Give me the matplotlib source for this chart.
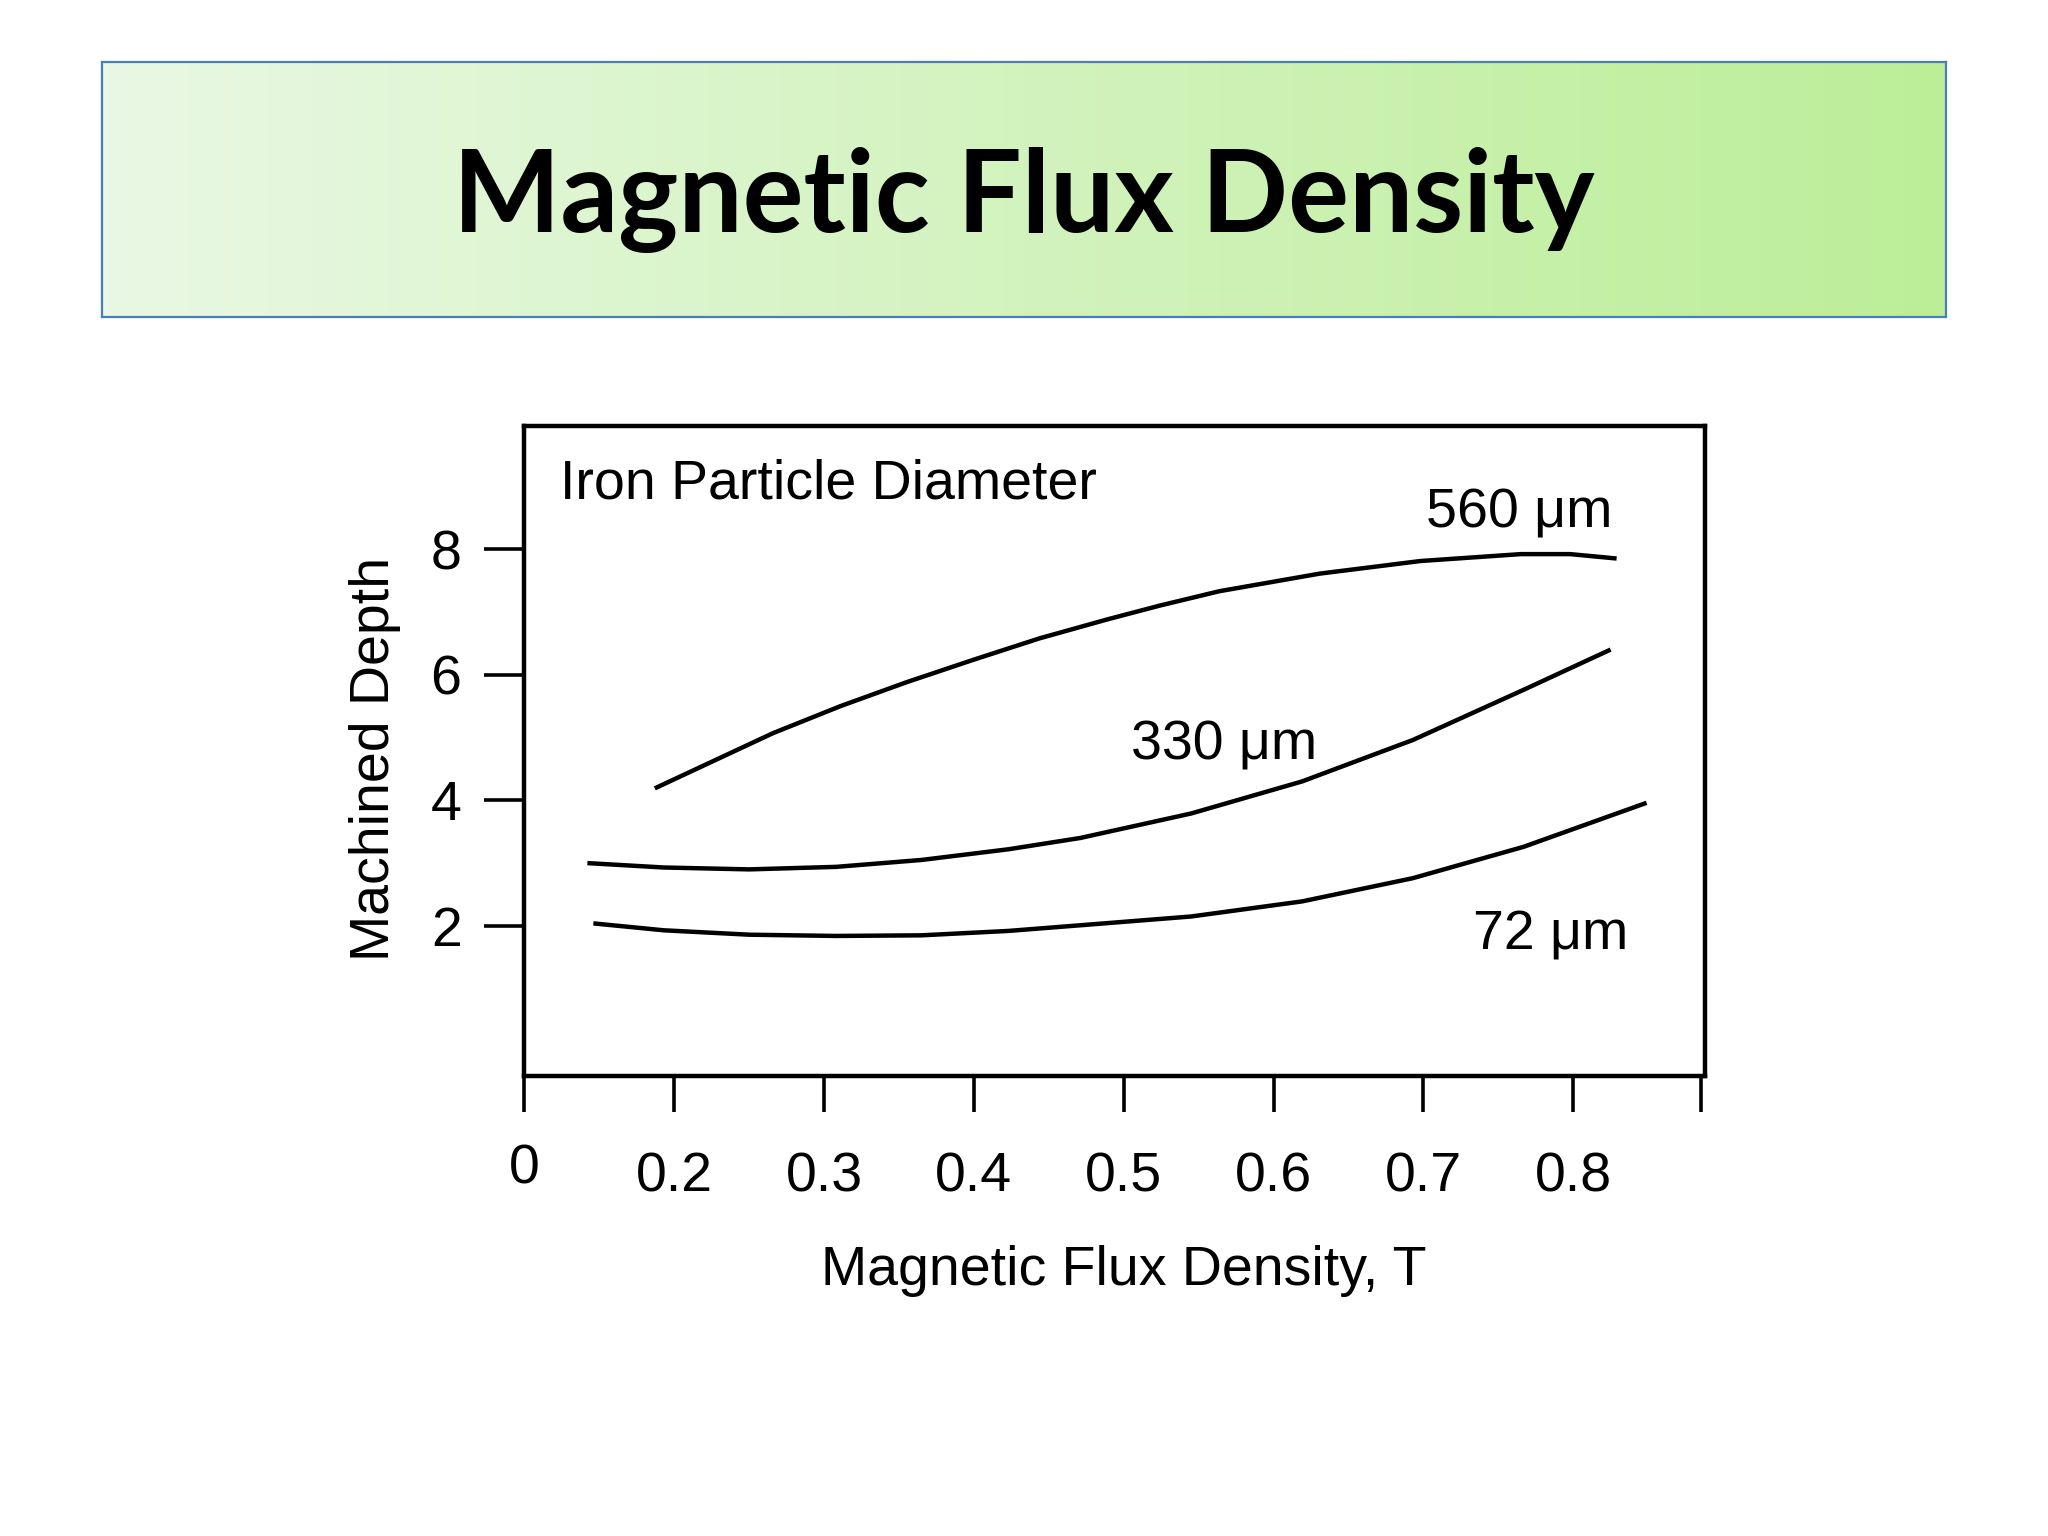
import numpy as np
import matplotlib
matplotlib.use('Agg')
import matplotlib.pyplot as plt
from matplotlib.transforms import ScaledTranslation

plt.rcParams['font.family'] = ['Liberation Sans', 'DejaVu Sans']

# values
flux_560 = [0.187, 0.222, 0.266, 0.311, 0.355, 0.400, 0.444, 0.489, 0.524, 0.564, 0.631, 0.698, 0.765, 0.798, 0.829]
depth_560 = [4.19, 4.58, 5.07, 5.50, 5.88, 6.24, 6.58, 6.88, 7.10, 7.33, 7.61, 7.81, 7.92, 7.92, 7.85]

flux_330 = [0.142, 0.193, 0.250, 0.308, 0.365, 0.423, 0.471, 0.545, 0.619, 0.693, 0.767, 0.825]
depth_330 = [3.00, 2.93, 2.90, 2.94, 3.05, 3.22, 3.40, 3.79, 4.30, 4.96, 5.76, 6.40]

flux_72 = [0.146, 0.193, 0.250, 0.308, 0.365, 0.423, 0.471, 0.545, 0.619, 0.693, 0.767, 0.849]
depth_72 = [2.04, 1.93, 1.86, 1.84, 1.85, 1.92, 2.01, 2.15, 2.39, 2.76, 3.26, 3.96]

curve_labels = ['560 \u03bcm', '330 \u03bcm', '72 \u03bcm']
label_pos = [(0.702, 8.34), (0.505, 4.65), (0.733, 1.63)]

x_ticks = [0.1, 0.2, 0.3, 0.4, 0.5, 0.6, 0.7, 0.8, 0.885]
x_ticklabels = ['0', '0.2', '0.3', '0.4', '0.5', '0.6', '0.7', '0.8', '']
y_ticks = [2, 4, 6, 8]

W, H = 2048, 1536
fig = plt.figure(figsize=(20.48, 15.36), dpi=100)

# title banner with green gradient
bx0, by0, bx1, by1 = 102, 62, 1946, 317
tax = fig.add_axes([bx0 / W, 1 - by1 / H, (bx1 - bx0) / W, (by1 - by0) / H])
left_c = np.array([233, 248, 228]) / 255
right_c = np.array([188, 238, 152]) / 255
t = np.linspace(0, 1, 256)
grad = left_c[None, :] * (1 - t[:, None]) + right_c[None, :] * t[:, None]
tax.imshow(grad[None, :, :], aspect='auto', extent=[0, 1, 0, 1])
tax.set_xlim(0, 1)
tax.set_ylim(0, 1)
tax.set_xticks([])
tax.set_yticks([])
for s in tax.spines.values():
    s.set_color('#4a7ebb')
    s.set_linewidth(1.6)
tax.text(0.5, 0.333, 'Magnetic Flux Density', transform=tax.transAxes,
         ha='center', va='baseline', fontsize=82, fontweight='bold',
         family=['Lato', 'DejaVu Sans'], color='black')

# main chart
ax0, ay0, ax1, ay1 = 524, 426, 1705, 1076
ax = fig.add_axes([ax0 / W, 1 - ay1 / H, (ax1 - ax0) / W, (ay1 - ay0) / H])

for xs, ys in [(flux_560, depth_560), (flux_330, depth_330), (flux_72, depth_72)]:
    ax.plot(xs, ys, color='black', lw=3.2, solid_capstyle='butt', solid_joinstyle='round')

for lab, (lx, ly) in zip(curve_labels, label_pos):
    ax.text(lx, ly, lab, fontsize=40, ha='left', va='baseline')

ax.text(0.124, 8.81, 'Iron Particle Diameter', fontsize=40, ha='left', va='baseline')

ax.set_xlim(0.0997, 0.888)
ax.set_ylim(-0.39, 9.96)
ax.set_xticks(x_ticks)
ax.set_xticklabels(x_ticklabels)
ax.set_yticks(y_ticks)
ax.tick_params(axis='x', direction='out', length=26, width=2.6, pad=28, labelsize=40)
ax.tick_params(axis='y', direction='out', length=29, width=2.6, pad=16, labelsize=40)
for s in ax.spines.values():
    s.set_linewidth(3.2)

# the "0" label sits a little higher than the others
zero = ax.xaxis.get_major_ticks()[0].label1
zero.set_transform(zero.get_transform() + ScaledTranslation(0, 0.08, fig.dpi_scale_trans))

ax.set_xlabel('Magnetic Flux Density, T', fontsize=40)
ax.xaxis.set_label_coords(0.508, -0.26)
ax.set_ylabel('Machined Depth', fontsize=40)
ax.yaxis.set_label_coords(-0.104, 0.488)

fig.savefig('out.png', dpi=100, facecolor='white')
